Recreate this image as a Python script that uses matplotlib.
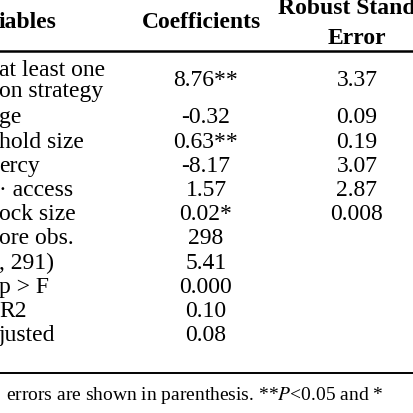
import matplotlib
matplotlib.use("Agg")
import matplotlib.pyplot as plt

labels = ["at least one\non strategy", "ge", "hold size", "ercy", "· access", "ock size",
          "ore obs.", ", 291)", "p > F", "R2", "justed"]
coefs = ["8.76**", "-0.32", "0.63**", "-8.17", "1.57", "0.02*", "298", "5.41", "0.000", "0.10", "0.08"]
errors = ["3.37", "0.09", "0.19", "3.07", "2.87", "0.008", "", "", "", "", ""]
footnote = "errors are shown in parenthesis. **$P$<0.05 and *"

W = H = 414
fig = plt.figure(figsize=(4.14, 4.14), dpi=100)
ax = fig.add_axes([0, 0, 1, 1])
ax.set_xlim(0, W); ax.set_ylim(H, 0); ax.axis("off")
plt.rcParams["mathtext.fontset"] = "stix"
FONT = "Liberation Serif"
FS = 17

ax.text(-2, 22, "iables", ha="left", va="center", fontsize=FS, fontweight="bold", family=FONT)
ax.text(202, 22, "Coefficients", ha="center", va="center", fontsize=FS, fontweight="bold", family=FONT)
ax.text(278, 8, "Robust Standard", ha="left", va="center", fontsize=FS, fontweight="bold", family=FONT)
ax.text(357, 38, "Error", ha="center", va="center", fontsize=FS, fontweight="bold", family=FONT)
ax.plot([0, W], [52, 52], color="black", lw=1.8)

ys = [81] + [118 + 24.2 * i for i in range(10)]
for y, lab, c, e in zip(ys, labels, coefs, errors):
    ax.text(-1, y, lab, ha="left", va="center", fontsize=FS, family=FONT, linespacing=1.0)
    ax.text(206, y, c, ha="center", va="center", fontsize=FS, family=FONT)
    ax.text(357, y, e, ha="center", va="center", fontsize=FS, family=FONT)

ax.plot([0, W], [374, 374], color="black", lw=1.4)
ax.text(6, 396, footnote, ha="left", va="center", fontsize=14, family=FONT)
fig.savefig("out.png", dpi=100)
